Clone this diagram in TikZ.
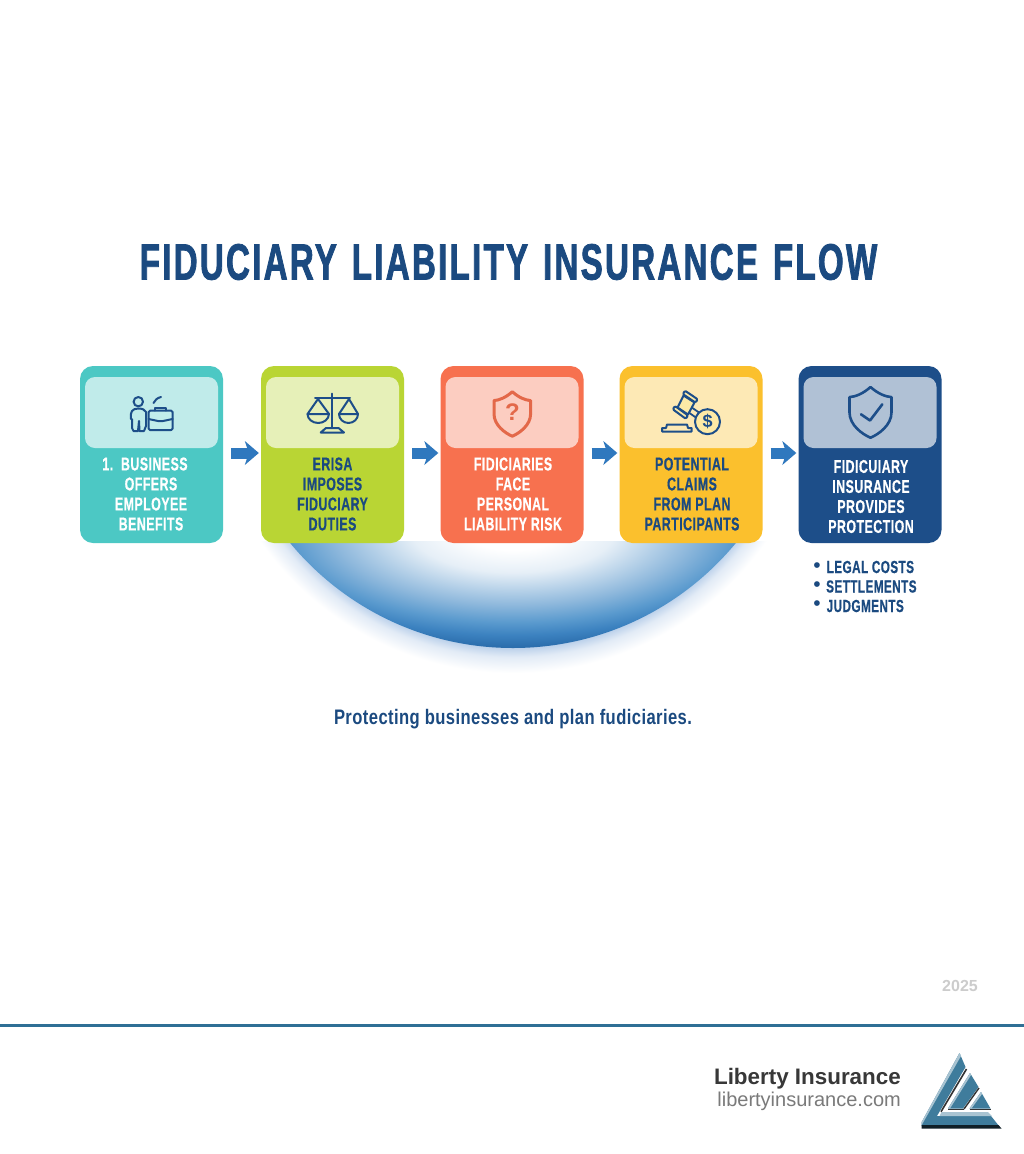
\documentclass[tikz,border=0pt]{standalone}
\usepackage{fontspec}
\usetikzlibrary{arrows.meta}
\setmainfont{Liberation Sans}
\newfontfamily\condfont[FakeStretch=0.67,LetterSpace=2.5,FakeBold=0.5]{Liberation Sans}
\newfontfamily\titlefont[FakeStretch=0.65,LetterSpace=4.4,WordSpace=1.3,FakeBold=1.5]{Liberation Sans}
\newfontfamily\subfont[FakeStretch=0.79,LetterSpace=2]{Liberation Sans}
\definecolor{navy}{HTML}{1B4A80}
\definecolor{iconnavy}{HTML}{1D4E89}
\definecolor{teal1}{HTML}{4CC8C4}
\definecolor{lime1}{HTML}{B9D534}
\definecolor{coral1}{HTML}{F7714F}
\definecolor{gold1}{HTML}{FBC02D}
\definecolor{blue1}{HTML}{1D4E89}
\definecolor{arrowblue}{HTML}{2F78BE}
\definecolor{rulecol}{HTML}{2F6F95}
\definecolor{logoblue}{HTML}{3F7C9C}
\definecolor{goldpanel}{HTML}{FDEAA6}
\definecolor{tealpanel}{HTML}{C2EDEB}
\definecolor{bw1}{HTML}{E6EFF7}
\definecolor{bw2}{HTML}{8EB8DC}
\definecolor{bw3}{HTML}{5A9ACE}
\definecolor{bw4}{HTML}{3C82C0}
\definecolor{bw5}{HTML}{2A6CAB}
\definecolor{gl1}{HTML}{B3CBE8}
\definecolor{gl2}{HTML}{E2EBF6}
\pgfdeclareradialshading{bowl}{\pgfpoint{0bp}{0bp}}{
  color(0bp)=(white);
  color(4bp)=(white);
  color(8.5bp)=(bw1);
  color(15bp)=(bw2);
  color(18.5bp)=(bw3);
  color(21bp)=(bw4);
  color(23.5bp)=(bw5);
  color(50bp)=(bw5)}
\pgfdeclareradialshading{glow}{\pgfpoint{0bp}{0bp}}{
  color(0bp)=(gl1);
  color(22.8bp)=(gl1);
  color(23.7bp)=(gl2);
  color(25bp)=(white);
  color(50bp)=(white)}
\tikzset{
  x=1pt,y=-1pt,
  card/.style={rounded corners=13pt,minimum width=143pt,minimum height=177pt,inner sep=0pt,draw=none},
  panel/.style={rounded corners=10pt,minimum width=133pt,minimum height=71pt,inner sep=0pt,fill=white,fill opacity=.65,draw=none},
  cardtext/.style={font=\condfont\bfseries\fontsize{18.5}{20}\selectfont,align=center,inner sep=0pt},
  listtext/.style={font=\condfont\bfseries\fontsize{17.5}{19}\selectfont,anchor=west,inner sep=0pt,text=navy},
  flow/.style={draw=arrowblue,line width=11pt,shorten <=8pt,shorten >=2pt,
    -{Stealth[length=14pt,width=24pt,inset=4pt,line width=0pt]}},
  ic/.style={draw=iconnavy,line width=2pt,line cap=round,line join=round},
  shieldicon/.pic={
    \path[pic actions] (0,0) .. controls (-.35,.13) and (-.7,.19) .. (-1,.2) -- (-1,.5)
      .. controls (-1,.75) and (-.4,.93) .. (0,1)
      .. controls (.4,.93) and (1,.75) .. (1,.5) -- (1,.2)
      .. controls (.7,.19) and (.35,.13) .. (0,0) -- cycle;
  }
}
\begin{document}
\begin{tikzpicture}
\useasboundingbox (0,0) rectangle (1024,1154);
\fill[white] (0,0) rectangle (1024,1154);

% title
\node[font=\titlefont\bfseries\fontsize{51}{56}\selectfont,text=navy,inner sep=0pt] (title) at (508.5,262) {FIDUCIARY LIABILITY INSURANCE FLOW};

% bowl
\begin{scope}
  \clip (200,541) rectangle (830,700);
  \shade[shading=glow] (513,364) circle (309);
\end{scope}
\begin{scope}
  \clip (200,541) rectangle (830,700);
  \clip (513,359) circle (289);
  \shade[shading=bowl] (513,530) ellipse (300 and 125);
\end{scope}

% cards
\node[card,fill=teal1] (c1) at (151.5,454.5) {};
\node[card,fill=lime1] (c2) at (332.5,454.5) {};
\node[card,fill=coral1] (c3) at (512,454.5) {};
\node[card,fill=gold1] (c4) at (691,454.5) {};
\node[card,fill=blue1] (c5) at (870,454.5) {};
\node[panel] (p1) at (151.5,412.5) {};
\node[panel] (p2) at (332.5,412.5) {};
\node[panel] (p3) at (512,412.5) {};
\node[panel] (p4) at (691,412.5) {};
\node[panel] (p5) at (870,412.5) {};

% card texts
\node[cardtext,text=white] (t1) at (151,494) {\hspace*{-12pt}1.\ \ BUSINESS\\OFFERS\\EMPLOYEE\\BENEFITS};
\node[cardtext,text=navy] (t2) at (332.5,494) {ERISA\\IMPOSES\\FIDUCIARY\\DUTIES};
\node[cardtext,text=white] (t3) at (513,494) {FIDICIARIES\\FACE\\PERSONAL\\LIABILITY RISK};
\node[cardtext,text=navy] (t4) at (692,494) {POTENTIAL\\CLAIMS\\FROM PLAN\\PARTICIPANTS};
\node[cardtext,text=white] (t5) at (871,496.5) {FIDICUIARY\\INSURANCE\\PROVIDES\\PROTECTION};

% arrows
\draw[flow] ([yshift=1.5pt]c1.east) -- ([yshift=1.5pt]c2.west);
\draw[flow] ([yshift=1.5pt]c2.east) -- ([yshift=1.5pt]c3.west);
\draw[flow] ([yshift=1.5pt]c3.east) -- ([yshift=1.5pt]c4.west);
\draw[flow] ([yshift=1.5pt]c4.east) -- ([yshift=1.5pt]c5.west);

% icon: person and briefcase
\draw[ic] (138.3,401.7) circle (4.7);
\draw[ic] (132,428) -- (132,419) -- (131,419) .. controls (130,412) and (132,408.5) .. (138.3,408.5)
  .. controls (142,408.5) and (145,409.5) .. (146,412) -- (146,426) -- (144,431) -- (139.5,431) -- (139,421) -- (138,431) -- (133.5,431) -- cycle;
\draw[ic,fill=tealpanel,rounded corners=1.5pt] (148.5,410.7) rectangle (172.7,430);
\draw[ic] (148.5,419) -- (158,421) -- (163,421) -- (172.7,419);
\draw[ic] (155,410.5) -- (155,408) -- (166,408) -- (166,410.5);
\draw[ic] (153.5,403) .. controls (155,400) and (157,398) .. (161,397);

% icon: scales
\draw[ic] (332.3,393.5) -- (332.3,428);
\draw[ic] (315,398) -- (350,398);
\draw[ic] (318,399) -- (307.5,414) -- (329,414) -- cycle;
\draw[ic] (349,399) -- (339,414) -- (358,414) -- cycle;
\draw[ic] (307.5,414) arc[start angle=180,end angle=0,x radius=10.7,y radius=9];
\draw[ic] (339,414) arc[start angle=180,end angle=0,x radius=9.5,y radius=9];
\draw[ic] (326,428) -- (338.5,428) -- (344,432.5) -- (320.7,432.5) -- cycle;

% icon: shield with question mark
\pic[draw=coral1!92!black,line width=3pt,line join=round,xscale=18.3,yscale=44.5] at (512.3,391.7) {shieldicon};
\node[font=\bfseries\fontsize{24}{24}\selectfont,text=coral1!92!black,inner sep=0pt] (q) at (512.5,412.5) {?};

% icon: gavel and dollar
\draw[ic,line width=1.8pt] (692.5,408) -- (699,412.5);
\draw[ic,line width=1.8pt] (689.5,413) -- (696.5,418);
\draw[ic,fill=goldpanel] (694.5,402.5) -- (688,414.5) -- (677.5,407.5) -- (683.5,395.5) -- cycle;
\draw[ic,fill=goldpanel,rounded corners=1.2pt] (685,390.7) -- (697.7,399.3) -- (695.5,402.6) -- (682.8,394) -- cycle;
\draw[ic,fill=goldpanel,rounded corners=1.2pt] (675,406) -- (688,415.5) -- (685.8,418.8) -- (672.8,409.3) -- cycle;
\draw[ic,fill=goldpanel] (707.5,421.7) circle (12.5);
\node[font=\bfseries\fontsize{18}{18}\selectfont,text=iconnavy,inner sep=0pt] (dollar) at (707.5,421.7) {\$};
\draw[ic] (667,424.5) -- (687,424.5) -- (688,428) -- (691.5,428) -- (691.5,431.5) -- (662,431.5) -- (662,428) -- (666,428) -- cycle;

% icon: shield with check
\pic[draw=iconnavy,line width=2.6pt,line join=round,xscale=21,yscale=50.7] at (870.5,387) {shieldicon};
\draw[ic,line width=2.6pt] (861,414.3) -- (870,420.5) -- (882.3,404.3);

% bullet list
\node[font=\fontsize{21}{21}\selectfont,text=navy,inner sep=0pt] (b1) at (817,567.5) {•};
\node[font=\fontsize{21}{21}\selectfont,text=navy,inner sep=0pt] (b2) at (817,586.5) {•};
\node[font=\fontsize{21}{21}\selectfont,text=navy,inner sep=0pt] (b3) at (817,605.5) {•};
\node[listtext] (l1) at (826.5,567) {LEGAL COSTS};
\node[listtext] (l2) at (826,586.5) {SETTLEMENTS};
\node[listtext] (l3) at (826.5,606) {JUDGMENTS};

% subtitle
\node[font=\subfont\bfseries\fontsize{21}{24}\selectfont,text=navy,inner sep=0pt] (sub) at (513,719.5) {Protecting businesses and plan fudiciaries.};

% year
\node[font=\bfseries\fontsize{16}{18}\selectfont,text=black!20,inner sep=0pt] (year) at (960,986) {2025};

% footer
\draw[rulecol,line width=3pt] (0,1025) -- (1024,1025);
\node[font=\bfseries\fontsize{22.4}{25}\selectfont,text=black!78,anchor=east,inner sep=0pt] (brand) at (901,1079) {Liberty Insurance};
\node[font=\fontsize{20}{22}\selectfont,text=black!52,anchor=east,inner sep=0pt] (url) at (901,1101) {libertyinsurance.com};

% logo
\fill[logoblue] (959.5,1053) -- (921.7,1122) -- (921.7,1126) -- (999,1126) -- (991,1116) -- (937,1116) -- (965.5,1067) -- cycle;
\fill[logoblue!45!white] (959.5,1053) -- (921.7,1122) -- (921.7,1125) -- (961,1056) -- cycle;
\fill[black!75!logoblue] (921.7,1125) -- (921.7,1128.5) -- (1001.5,1128.5) -- (998.5,1125) -- cycle;
\fill[logoblue!45!white] (941.5,1112) -- (988,1112) -- (992,1116) -- (939.5,1116) -- cycle;
\draw[black!80,line width=1.6pt] (966.5,1069) -- (941,1111.7);
\fill[logoblue] (970,1073) -- (978.5,1087) -- (963,1108.5) -- (948,1108.5) -- cycle;
\fill[logoblue!45!white] (970,1073) -- (948,1108.5) -- (950,1108.5) -- (971,1075) -- cycle;
\draw[black!80,line width=1.4pt] (979,1088) -- (964,1109);
\draw[black!80,line width=1pt] (948,1109) -- (964,1109);
\fill[logoblue] (981,1092) -- (990.5,1108.5) -- (969.5,1108.5) -- cycle;
\fill[logoblue!45!white] (981,1092) -- (969.5,1108.5) -- (971.5,1108.5) -- (982,1094) -- cycle;
\draw[black!80,line width=1pt] (969.5,1109) -- (991,1109);
\end{tikzpicture}
\end{document}
